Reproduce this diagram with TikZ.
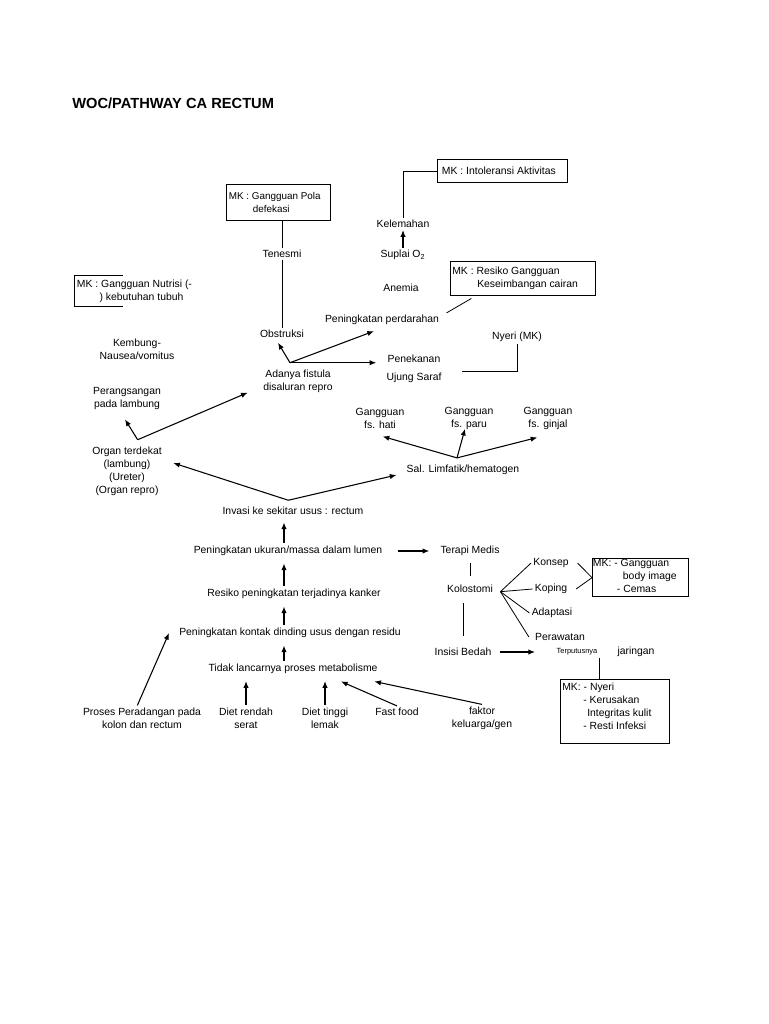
\documentclass[tikz,border=0pt]{standalone}
\usepackage{fontspec}
\setmainfont{Liberation Sans}
\usetikzlibrary{arrows.meta,positioning}

\begin{document}
\begin{tikzpicture}[x=0.75pt, y=-0.75pt,
    every node/.style={font=\fontsize{7.8}{9.75}\selectfont, inner sep=1.5pt, align=center},
    mkframe/.style={draw, line width=0.6pt, anchor=north west, inner sep=0pt},
    mktext/.style={align=left, anchor=west},
    link/.style={line width=0.6pt},
    arr/.style={line width=0.8pt, -{Latex[length=5pt,width=4pt]}}]
\useasboundingbox (0,0) rectangle (768,1024);

\node[anchor=west, font=\fontsize{11}{13}\selectfont\bfseries] (title) at (70,103) {WOC/PATHWAY CA RECTUM};

% MK boxes
\node[mkframe, minimum width=97.5pt, minimum height=17.25pt] (aktivitas) at (437,159) {};
\node[mktext] at ([xshift=2pt]aktivitas.west) {MK : Intoleransi Aktivitas};
\node[mkframe, minimum width=78pt, minimum height=27pt] (pola) at (226,184) {};
\node[mktext, font=\fontsize{7.4}{9.3}\selectfont] at ([xshift=0.5pt]pola.west) {MK : Gangguan Pola\\\hspace*{18pt}defekasi};
\node[mkframe, draw=none, minimum width=36pt, minimum height=23.25pt] (nutrisi) at (74,275) {};
\draw[link] (nutrisi.north east) -- (nutrisi.north west) -- (nutrisi.south west) -- (nutrisi.south east);
\node[mktext] at ([xshift=0.5pt]nutrisi.west) {MK : Gangguan Nutrisi (-\\\hspace*{17pt}) kebutuhan tubuh};
\node[mkframe, minimum width=108.75pt, minimum height=25.5pt] (mkresiko) at (450,261) {};
\node[mktext] at (mkresiko.west) {MK : Resiko Gangguan\\\hspace*{18.75pt}Keseimbangan cairan};
\node[mkframe, line width=1pt, minimum width=72pt, minimum height=28.5pt] (bodybox) at (592,558) {};
\node[mktext] at ([xshift=-1pt,yshift=1pt]bodybox.west) {MK: - Gangguan\\\hspace*{22.5pt}body image\\\hspace*{18pt}- Cemas};
\node[mkframe, minimum width=81.75pt, minimum height=48pt] (nyeribox) at (560,679) {};
\node[mktext] at ([yshift=4pt]nyeribox.west) {MK: - Nyeri\\\hspace*{15.75pt}- Kerusakan\\\hspace*{18.75pt}Integritas kulit\\\hspace*{15.75pt}- Resti Infeksi};

% upper part
\node (kelemahan) at (403,224) {Kelemahan};
\node (suplai) at (403,255) {Suplai O\textsubscript{2}};
\node (anemia) at (401,288) {Anemia};
\node (tenesmi) at (282,254) {Tenesmi};
\node (obstruksi) at (282,334) {Obstruksi};
\node (kembung) at (137,349) {Kembung-\\Nausea/vomitus};
\node (perangsangan) at (127,398) {Perangsangan\\pada lambung};
\node (fistula) at (298,381) {Adanya fistula\\disaluran repro};
\node (perdarahan) at (382,320) {Peningkatan perdarahan};
\node (nyeri) at (517,337) {Nyeri (MK)};
\node (penekanan) at (414,369) {Penekanan\\[3.5pt]Ujung Saraf};
\node (hati) at (380,418) {Gangguan\\fs. hati};
\node (paru) at (469,418) {Gangguan\\fs. paru};
\node (ginjal) at (548,418) {Gangguan\\fs. ginjal};
\node (organ) at (127,471) {Organ terdekat\\(lambung)\\(Ureter)\\(Organ repro)};
\node (limfatik) at (463,470) {Sal. Limfatik/hematogen};

% central chain
\node (invasi) at (293,511) {Invasi ke sekitar usus : rectum};
\node (ukuran) at (288,551) {Peningkatan ukuran/massa dalam lumen};
\node (resiko) at (294,594) {Resiko peningkatan terjadinya kanker};
\node (kontak) at (290,633) {Peningkatan kontak dinding usus dengan residu};
\node (tidak) at (293,669) {Tidak lancarnya proses metabolisme};

% therapy
\node (terapi) at (470,551) {Terapi Medis};
\node (kolostomi) at (470,589) {Kolostomi};
\node (konsep) at (551,563) {Konsep};
\node (koping) at (551,589) {Koping};
\node (adaptasi) at (552,613) {Adaptasi};
\node (perawatan) at (560,637) {Perawatan};
\node (insisi) at (463,652) {Insisi Bedah};
\node[font=\fontsize{5.6}{7}\selectfont] (terputus) at (577,652) {Terputusnya};
\node (jaringan) at (636,652) {jaringan};

% causes
\node (peradangan) at (142,718) {Proses Peradangan pada\\kolon dan rectum};
\node (rendah) at (246,718) {Diet rendah\\serat};
\node (tinggi) at (325,718) {Diet tinggi\\lemak};
\node (fastfood) at (397,712) {Fast food};
\node (faktor) at (482,718) {faktor\\keluarga/gen};

% connectors
\coordinate (spine) at (284,0);
\coordinate (fapex) at ([xshift=-6pt,yshift=3.5pt]fistula.north);
\coordinate (oapex) at ([xshift=8pt,yshift=3.5pt]organ.north);
\coordinate (iapex) at ([xshift=-3.5pt,yshift=3.5pt]invasi.north);
\coordinate (lapex) at ([xshift=-4.5pt,yshift=3.75pt]limfatik.north);
\coordinate (kapex) at ([xshift=4pt,yshift=-2pt]kolostomi.east);

\draw[link] (kelemahan.north) |- (aktivitas.west);
\draw[arr] (suplai.north) -- (kelemahan.south);
\draw[link] (tenesmi.north |- pola.south) -- (tenesmi.north);
\draw[link] (tenesmi.south) -- (obstruksi.north);
\draw[arr] (fapex) -- ([xshift=-3pt,yshift=-2pt]obstruksi.south);
\draw[arr] (fapex) -- ([xshift=-6pt,yshift=-3pt]perdarahan.south);
\draw[arr, shorten >=6pt] (fapex) -- (fapex -| penekanan.west);
\draw[link] ([xshift=4pt]perdarahan.north east) -- ([xshift=16pt,yshift=-2pt]mkresiko.south west);
\draw[link] ([xshift=14pt,yshift=-2pt]penekanan.east) -| (nyeri.south);

\draw[arr] (oapex) -- ([xshift=-1.5pt,yshift=-6pt]perangsangan.south);
\draw[arr] (oapex) -- ([xshift=-10pt,yshift=1.5pt]fistula.south west);
\draw[arr] (iapex) -- ([xshift=7pt,yshift=6pt]organ.east);
\draw[arr] (iapex) -- ([xshift=-6pt,yshift=-3.75pt]limfatik.west);
\draw[arr] (lapex) -- ([xshift=2pt,yshift=-4.5pt]hati.south);
\draw[arr] (lapex) -- ([xshift=-3pt,yshift=2pt]paru.south);
\draw[arr] (lapex) -- ([xshift=-8pt,yshift=-4.5pt]ginjal.south);

\draw[arr, shorten <=1pt, shorten >=4pt] (ukuran.north -| spine) -- (invasi.south -| spine);
\draw[arr, shorten <=1pt, shorten >=4pt] (resiko.north -| spine) -- (ukuran.south -| spine);
\draw[arr, shorten <=1pt, shorten >=4pt] (kontak.north -| spine) -- (resiko.south -| spine);
\draw[arr, shorten <=1pt, shorten >=4pt] (tidak.north -| spine) -- (kontak.south -| spine);

\draw[arr, shorten <=9.75pt, shorten >=6.75pt] (ukuran.east) -- (terapi.west);
\draw[link, shorten <=3.75pt, shorten >=5pt] (terapi.south) -- (kolostomi.north);
\draw[link, shorten <=6pt, shorten >=7.5pt] (kolostomi.south -| insisi.north) -- (insisi.north);
\draw[link] (kapex) -- (konsep.west);
\draw[link] (kapex) -- (koping.west);
\draw[link] (kapex) -- (adaptasi.west);
\draw[link] (kapex) -- ([xshift=-3pt]perawatan.west);
\draw[link] ([xshift=5pt]konsep.east) -- (bodybox.west);
\draw[link] ([xshift=5pt]koping.east) -- (bodybox.west);
\draw[arr, shorten <=4.5pt, shorten >=14.5pt] (insisi.east) -- (terputus.west);
\draw[link, line width=1pt] (terputus.south east) -- (terputus.south east |- nyeribox.north);

\draw[arr, shorten >=3.75pt] (rendah.north) -- (rendah.north |- tidak.south);
\draw[arr, shorten >=3.75pt] (tinggi.north) -- (tinggi.north |- tidak.south);
\draw[arr] (fastfood.north) -- ([xshift=36pt,yshift=-4pt]tidak.south);
\draw[arr] (faktor.north) -- ([xshift=61pt,yshift=-4pt]tidak.south);
\draw[arr] ([xshift=-3.5pt]peradangan.north) -- ([xshift=-6pt]kontak.west);
\end{tikzpicture}
\end{document}
